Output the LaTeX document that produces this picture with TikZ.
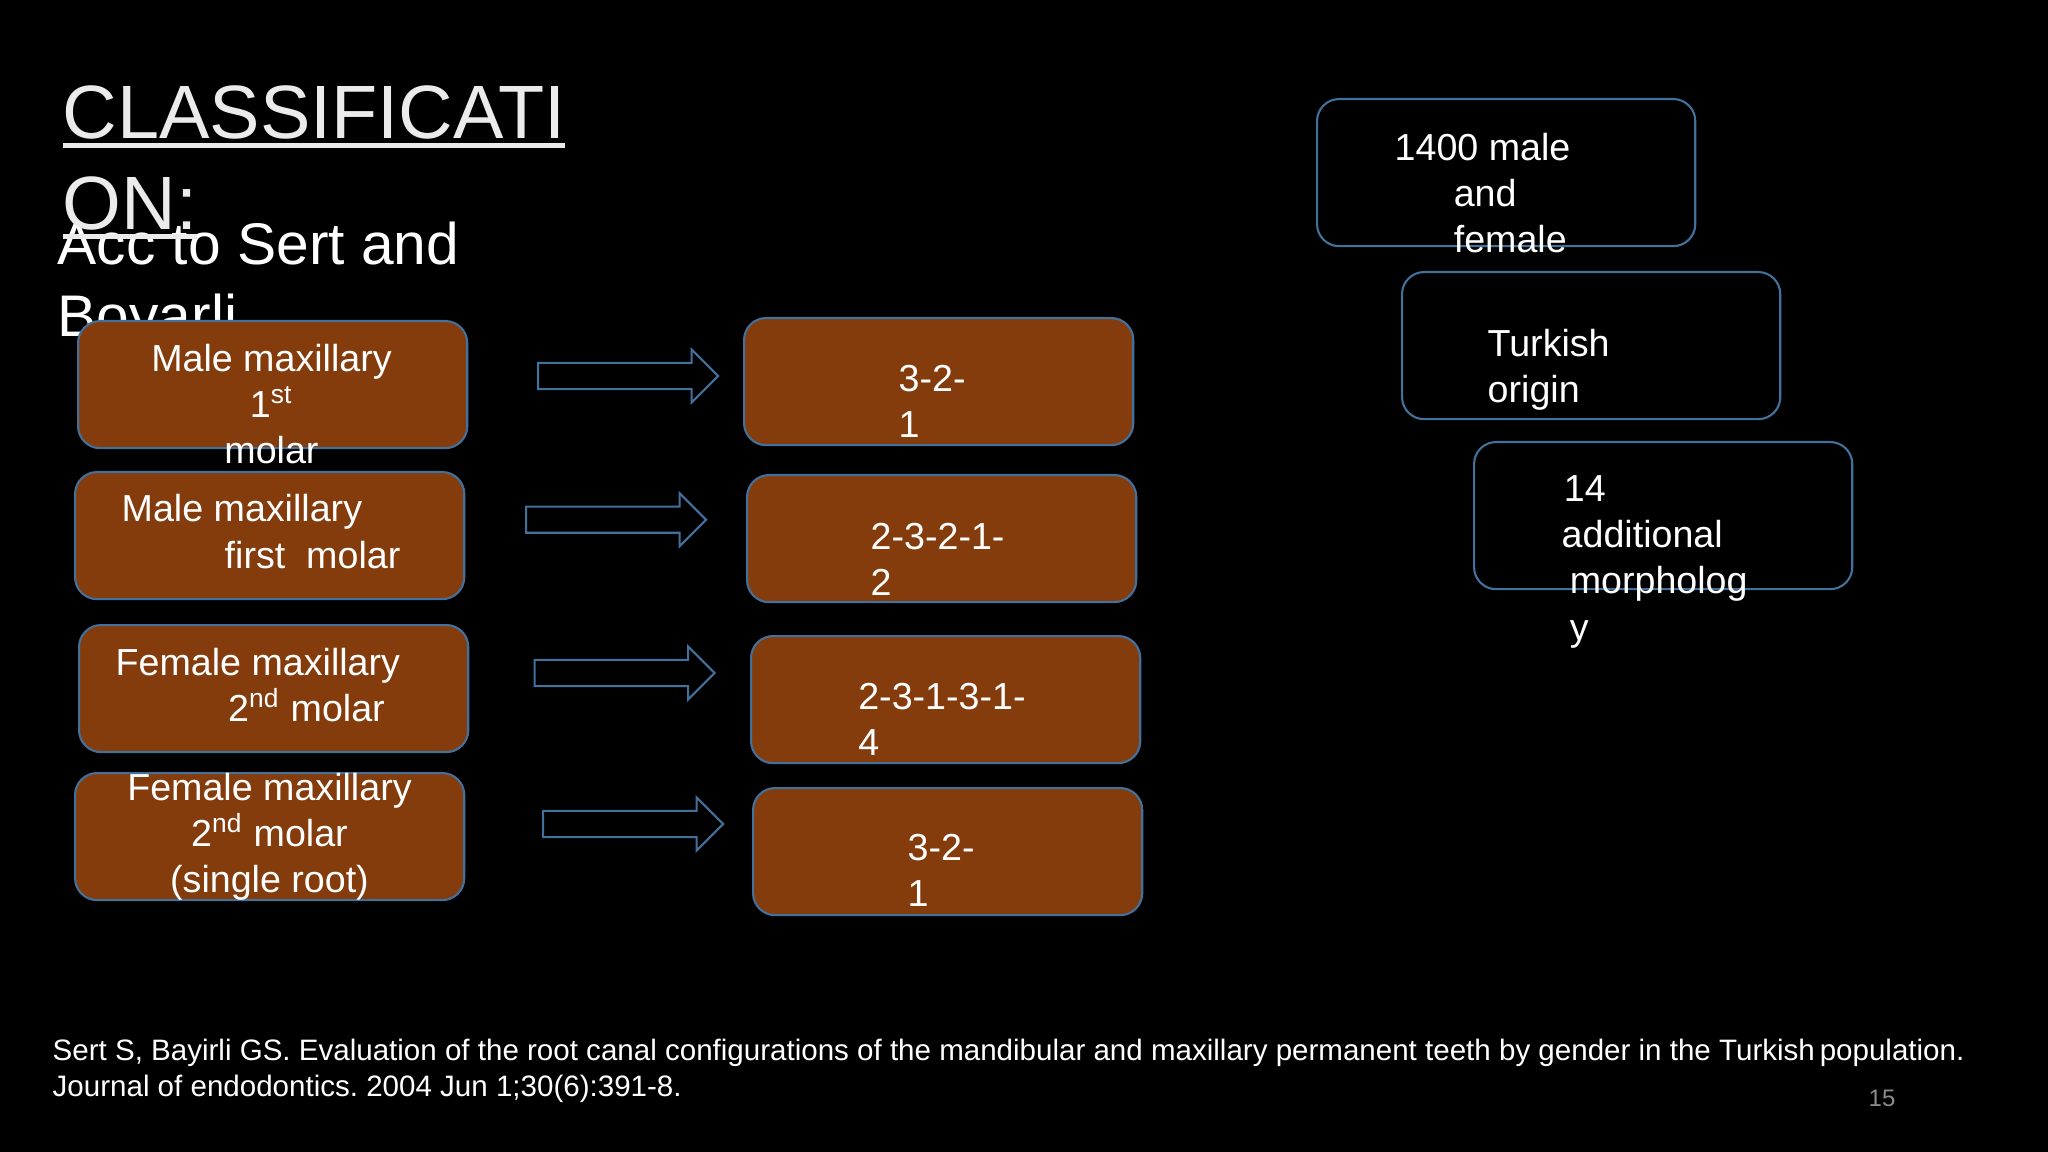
\documentclass[tikz,border=0pt]{standalone}
\usepackage{fontspec}
\setmainfont{Liberation Sans}
\usetikzlibrary{shapes.arrows}
\frenchspacing

\definecolor{toothbrown}{RGB}{132,60,12}
\definecolor{edgeblue}{RGB}{65,113,156}
\definecolor{titlegrey}{RGB}{235,235,235}
\definecolor{pagegrey}{RGB}{140,140,140}

\newcommand{\titleline}[1]{\setbox0\hbox{#1}\rlap{\rule[-2.6pt]{\wd0}{1.4pt}}\box0}

\begin{document}
\begin{tikzpicture}[x=0.01cm,y=-0.01cm,
  tooth/.style={draw=edgeblue,line width=0.6pt,fill=toothbrown,rounded corners=0.22cm,
    inner sep=0,minimum width=3.89cm,minimum height=1.27cm,anchor=north west},
  info/.style={draw=edgeblue,line width=0.6pt,rounded corners=0.22cm,
    inner sep=0,minimum width=3.78cm,minimum height=1.47cm,anchor=north west},
  txt/.style={text=white,font=\fontsize{10.7}{13.1}\selectfont,inner sep=0,align=left,anchor=base west},
  ctxt/.style={txt,align=center,anchor=base},
  blk/.style={single arrow,draw=edgeblue,line width=0.6pt,inner xsep=0,inner ysep=0.12cm,
    single arrow head extend=0.135cm,minimum width=0.51cm,minimum height=1.8cm,anchor=west}]

\path[use as bounding box,fill=black] (0,0) rectangle (2048,1152);

% multi-line texts sit on the baseline of their last line
\node (sub) at (57,337) [anchor=base west,inner sep=0,align=left,text=white,
  font=\fontsize{16.7}{20.5}\selectfont] {Acc to Sert and\\Boyarli};
\node (title) at (62,230) [anchor=base west,inner sep=0,align=left,text=titlegrey,
  font=\fontsize{21.5}{25.9}\selectfont] {\titleline{CLASSIFICATI}\\\titleline{ON:}};

% left column
\node[tooth] (l1) at (77,320) {};
\node[tooth] (l2) at (74,471) {};
\node[tooth] (l3) at (78,624) {};
\node[tooth] (l4) at (74,772) {};

\node[ctxt] (l1t) at (271.5,464) {Male maxillary\\1\textsuperscript{st}\\molar};
\node[txt] (l2t) at (121,568) {Male maxillary\\\hspace*{29.3pt}first\ \ molar};
\node[txt] (l3t) at (115,721.7) {Female maxillary\\\hspace*{32pt}2\textsuperscript{nd} molar};
\node[ctxt] (l4t) at (269.5,892.7) {Female maxillary\\2\textsuperscript{nd} molar\\(single root)};

% arrows
\node[blk] (a1) at (537,376) {};
\node[blk] (a2) at (525,519.7) {};
\node[blk] (a3) at (533.5,673) {};
\node[blk] (a4) at (542,824) {};

% right column
\node[tooth] (r1) at (743,317) {};
\node[tooth] (r2) at (746,474) {};
\node[tooth] (r3) at (750,635) {};
\node[tooth] (r4) at (752,787) {};

\node[txt] (r1t) at (898,438) {3-2-\\1};
\node[txt] (r2t) at (870,596) {2-3-2-1-\\2};
\node[txt] (r3t) at (857.6,755.7) {2-3-1-3-1-\\4};
\node[txt] (r4t) at (907,906.7) {3-2-\\1};

% study details
\node[info] (s1) at (1316,98) {};
\node[info] (s2) at (1401,271) {};
\node[info] (s3) at (1473,441) {};

\node[txt] (s1t) at (1394,252.5) {1400 male\\\hspace*{16.8pt}and\\\hspace*{16.8pt}female};
\node[txt] (s2t) at (1487,402.5) {Turkish\\origin};
\node[txt] (s3t) at (1561,640) {\hspace*{0.6pt}14\\additional\\\hspace*{2.3pt}morpholog\\\hspace*{2.3pt}y};

\node (ref) at (52,1096.7) [anchor=base west,inner sep=0,align=left,text=white,
  font=\fontsize{8.4}{10.2}\selectfont]
  {Sert S, Bayirli GS. Evaluation of the root canal configurations of the mandibular and maxillary permanent teeth by gender in the Turkish\,population.\\Journal of endodontics. 2004 Jun 1;30(6):391-8.};
\node (pg) at (1868,1106) [anchor=base west,inner sep=0,text=pagegrey,
  font=\fontsize{6.8}{8}\selectfont] {15};

\end{tikzpicture}
\end{document}
